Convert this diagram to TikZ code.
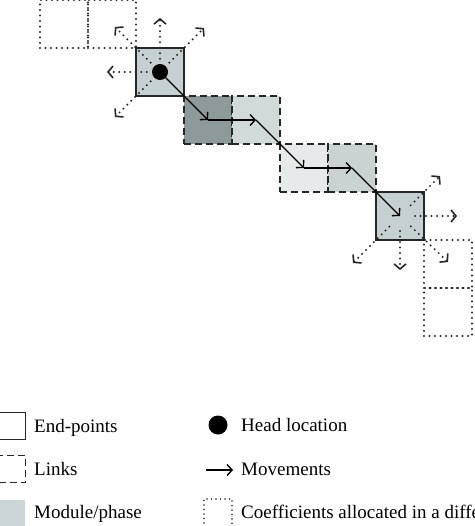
\documentclass[tikz,border=0pt]{standalone}
\usepackage{fontspec}
\setmainfont{Liberation Serif}
\usetikzlibrary{arrows.meta}
\definecolor{endfill}{HTML}{C6D0D0}
\definecolor{darkfill}{HTML}{8E9A9A}
\definecolor{lightfill}{HTML}{D2D9D9}
\definecolor{palefill}{HTML}{E6EAEA}
\definecolor{midfill}{HTML}{CAD2D2}
\definecolor{modfill}{HTML}{CDD6D6}
\begin{document}
\begin{tikzpicture}[x=1pt, y=-1pt,
        cell/.style={minimum size=48pt, inner sep=0pt, line width=1.8pt, draw=black!85},
        endpt/.style={cell},
        linkbox/.style={cell, dash pattern=on 7pt off 4pt},
        coeff/.style={cell, draw=black!85, line width=2.2pt, line cap=round, dash pattern=on 0pt off 5.5pt},
        move/.style={line width=1.4pt, -{Straight Barb[length=5pt, width=11pt]}},
        spread/.style={line width=2.2pt, draw=black!85, line cap=round, dash pattern=on 0pt off 5.5pt, -{Straight Barb[length=5pt, width=12pt, line width=1.6pt, line cap=butt]}},
        headdot/.style={circle, fill=black, inner sep=0pt},
        legtext/.style={anchor=base west, inner sep=0pt, font=\fontsize{19}{23}\selectfont}]
        \useasboundingbox (0, 0) rectangle (474, 526);
        \node[coeff] (coA) at (64, 24) {};
        \node[coeff] (coB) at (112, 24) {};
        \node[endpt, fill=endfill] (endA) at (160, 72) {};
        \node[linkbox, fill=darkfill] (lkA) at (208, 120) {};
        \node[linkbox, fill=lightfill] (lkB) at (256, 120) {};
        \node[linkbox, fill=palefill] (lkC) at (304, 168) {};
        \node[linkbox, fill=midfill] (lkD) at (352, 168) {};
        \node[endpt, fill=endfill] (endB) at (400, 216) {};
        \node[coeff] (coC) at (448, 264) {};
        \node[coeff] (coD) at (448, 312) {};
        \coordinate (aW) at (107, 72);
        \coordinate (aN) at (160, 18);
        \coordinate (aNW) at (115, 27);
        \coordinate (aNE) at (204, 28);
        \coordinate (aSW) at (115, 117);
        \coordinate (bE) at (457, 216);
        \coordinate (bS) at (400, 270);
        \coordinate (bNE) at (440, 176);
        \coordinate (bSW) at (353, 263);
        \coordinate (bSE) at (448, 262);
        \node[headdot, minimum size=16pt] (head) at (160, 72) {};
        \draw[spread, shorten <=5pt] (head) -- (aW);
        \draw[spread, shorten <=5pt] (head) -- (aN);
        \draw[spread, shorten <=5pt] (head) -- (aNW);
        \draw[spread, shorten <=5pt] (head) -- (aNE);
        \draw[spread, shorten <=5pt] (head) -- (aSW);
        \draw[spread, shorten <=15pt] (endB.center) -- (bE);
        \draw[spread, shorten <=15pt] (endB.center) -- (bS);
        \draw[spread, shorten <=15pt] (endB.center) -- (bNE);
        \draw[spread, shorten <=15pt] (endB.center) -- (bSW);
        \draw[spread, shorten <=15pt] (endB.center) -- (bSE);
        \draw[move] (head) -- (lkA.center);
        \draw[move] (lkA.center) -- (lkB.center);
        \draw[move] (lkB.center) -- (lkC.center);
        \draw[move] (lkC.center) -- (lkD.center);
        \draw[move] (lkD.center) -- (endB.center);
        \node[endpt, minimum size=27pt, fill=white] (keyEnd) at (12, 426) {};
        \node[legtext] (txEnd) at (34, 432) {End-points};
        \node[linkbox, minimum size=27pt] (keyLink) at (12, 469) {};
        \node[legtext] (txLink) at (34, 475) {Links};
        \node[cell, draw=none, fill=modfill, minimum size=27pt] (keyMod) at (11, 513) {};
        \node[legtext] (txMod) at (34, 518) {Module/phase};
        \node[headdot, minimum size=19pt] (keyHead) at (218, 425) {};
        \node[legtext] (txHead) at (241, 431) {Head location};
        \coordinate (mvL) at (206, 470);
        \coordinate (mvR) at (233, 470);
        \draw[move] (mvL) -- (mvR);
        \node[legtext] (txMove) at (241, 475) {Movements};
        \node[coeff, minimum size=28pt, line width=1.8pt, dash pattern=on 0pt off 4.5pt] (keyCo) at (218, 513) {};
        \node[legtext] (txCo) at (241, 518) {Coefficients allocated in a different};
\end{tikzpicture}
\end{document}
